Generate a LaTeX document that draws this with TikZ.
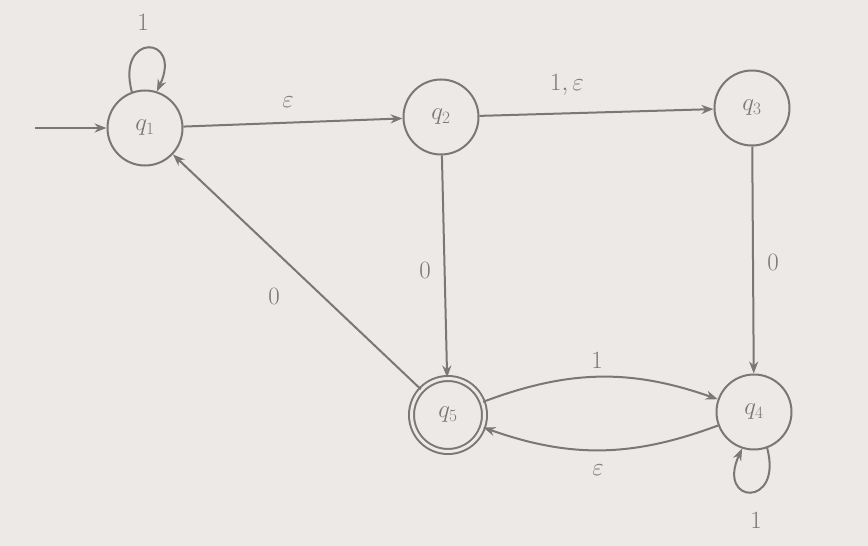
\documentclass[tikz,border=0pt]{standalone}
\usetikzlibrary{arrows.meta}
\definecolor{bg}{RGB}{236,233,230}
\definecolor{ink}{RGB}{122,120,118}
\begin{document}
\begin{tikzpicture}[x=1pt,y=1pt,
  lbl/.style={text=ink,font=\fontsize{27}{32}\selectfont,inner sep=0pt},
  state/.style={circle,draw=ink,line width=2pt,minimum size=75pt,inner sep=0pt,text=ink,font=\fontsize{27}{32}\selectfont},
  accept/.style={state,double=bg,double distance=3pt,minimum size=73pt},
  edge/.style={draw=ink,line width=2pt,-{Stealth[length=12pt,width=9pt]}}]
\fill[bg] (0,0) rectangle (868,-546);
\useasboundingbox (0,0) rectangle (868,-546);
\node[state]  (q1) at (145,-128) {$q_1$};
\node[state]  (q2) at (441,-117) {$q_2$};
\node[state]  (q3) at (752,-108) {$q_3$};
\node[state]  (q4) at (754,-412) {$q_4$};
\node[accept] (q5) at (448,-415) {$q_5$};
\coordinate (s) at (35,-128);
\draw[edge] (s) -- (q1);
\draw[edge] (q1.110) .. controls +(105:62) and +(65:62) .. (q1.72);
\draw[edge] (q1) -- (q2);
\draw[edge] (q2) -- (q3);
\draw[edge] (q2) -- (q5);
\draw[edge] (q3) -- (q4);
\draw[edge] (q5) -- (q1);
\draw[edge] (q5) to[bend left=20] (q4);
\draw[edge] (q4) to[bend left=20] (q5);
\draw[edge] (q4.-70) .. controls +(-75:62) and +(-115:62) .. (q4.-108);
\node[lbl] (l1) at (143,-22) {$1$};
\node[lbl] (l2) at (288,-102) {$\varepsilon$};
\node[lbl] (l3) at (567,-85) {$1,\varepsilon$};
\node[lbl] (l4) at (425,-270) {$0$};
\node[lbl] (l5) at (274,-296) {$0$};
\node[lbl] (l6) at (773,-262) {$0$};
\node[lbl] (l7) at (597,-360) {$1$};
\node[lbl] (l8) at (598,-470) {$\varepsilon$};
\node[lbl] (l9) at (756,-520) {$1$};
\end{tikzpicture}
\end{document}
